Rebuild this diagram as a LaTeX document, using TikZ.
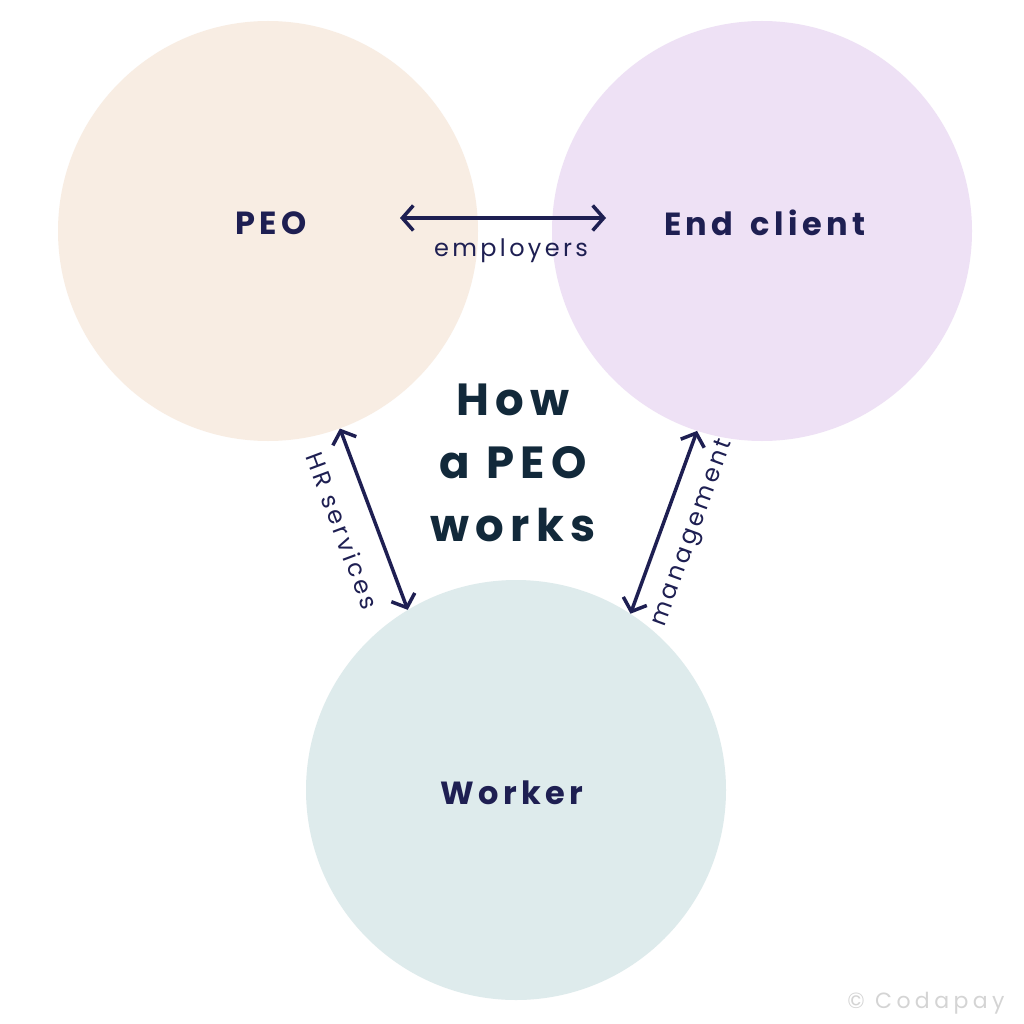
\documentclass[tikz,border=0pt]{standalone}
\usepackage{fontspec}
\setmainfont{Poppins}
\newfontfamily\spacedfont[LetterSpace=14]{Poppins}
\newfontfamily\widefont[LetterSpace=20]{Poppins}
\usetikzlibrary{arrows.meta, positioning}
\definecolor{cpeo}{HTML}{F8EDE3}
\definecolor{cclient}{HTML}{EEE1F5}
\definecolor{cworker}{HTML}{DEEBEC}
\definecolor{cnavy}{HTML}{1E1F52}
\definecolor{ctitle}{HTML}{12293A}
\definecolor{cmark}{HTML}{D4D4D4}

\begin{document}
\begin{tikzpicture}[
  x=1pt, y=-1pt,
  blob/.style={circle, minimum size=420pt, inner sep=0pt},
  party/.style={font=\spacedfont\fontsize{32}{36}\selectfont\bfseries, text=cnavy},
  rel/.style={font=\spacedfont\fontsize{24}{28}\selectfont, text=cnavy},
  arr/.style={{Straight Barb[length=11pt, width=25pt]}-{Straight Barb[length=11pt, width=25pt]},
              line width=3.5pt, draw=cnavy},
  ]
\fill[white] (0,0) rectangle (1024,1024);
\useasboundingbox (0,0) rectangle (1024,1024);

% the three parties
\node[blob, fill=cpeo] (peo) at (268,231) {};
\node[blob, fill=cclient] (client) at (762,231) {};
\node[blob, fill=cworker] (worker) at (516,790) {};

\node[party] (peo-t) at (271,223) {PEO};
\node[party] (client-t) at (765,223) {End\hspace{6pt} client};
\node[party] (worker-t) at (512,793) {Worker};

\node[font=\spacedfont\fontsize{45}{63}\selectfont\bfseries, text=ctitle, align=center]
  (title) at (513,463) {How\\a PEO\\works};

% relations
\coordinate (emp-l) at (400,218);
\coordinate (emp-r) at (606,218);
\draw[arr] (emp-l) -- (emp-r) node[rel, midway, below=16pt, xshift=8pt] {employers};
\draw[arr] (peo.-70) -- (worker.121) node[rel, midway, sloped, below=19pt] {HR services};
\draw[arr] (worker.57) -- (client.-108) node[rel, midway, sloped, below=15pt] {management};

\node[font=\widefont\fontsize{22}{26}\selectfont, text=cmark, anchor=east] (mark) at (1008,1003) {© Codapay};
\end{tikzpicture}
\end{document}
